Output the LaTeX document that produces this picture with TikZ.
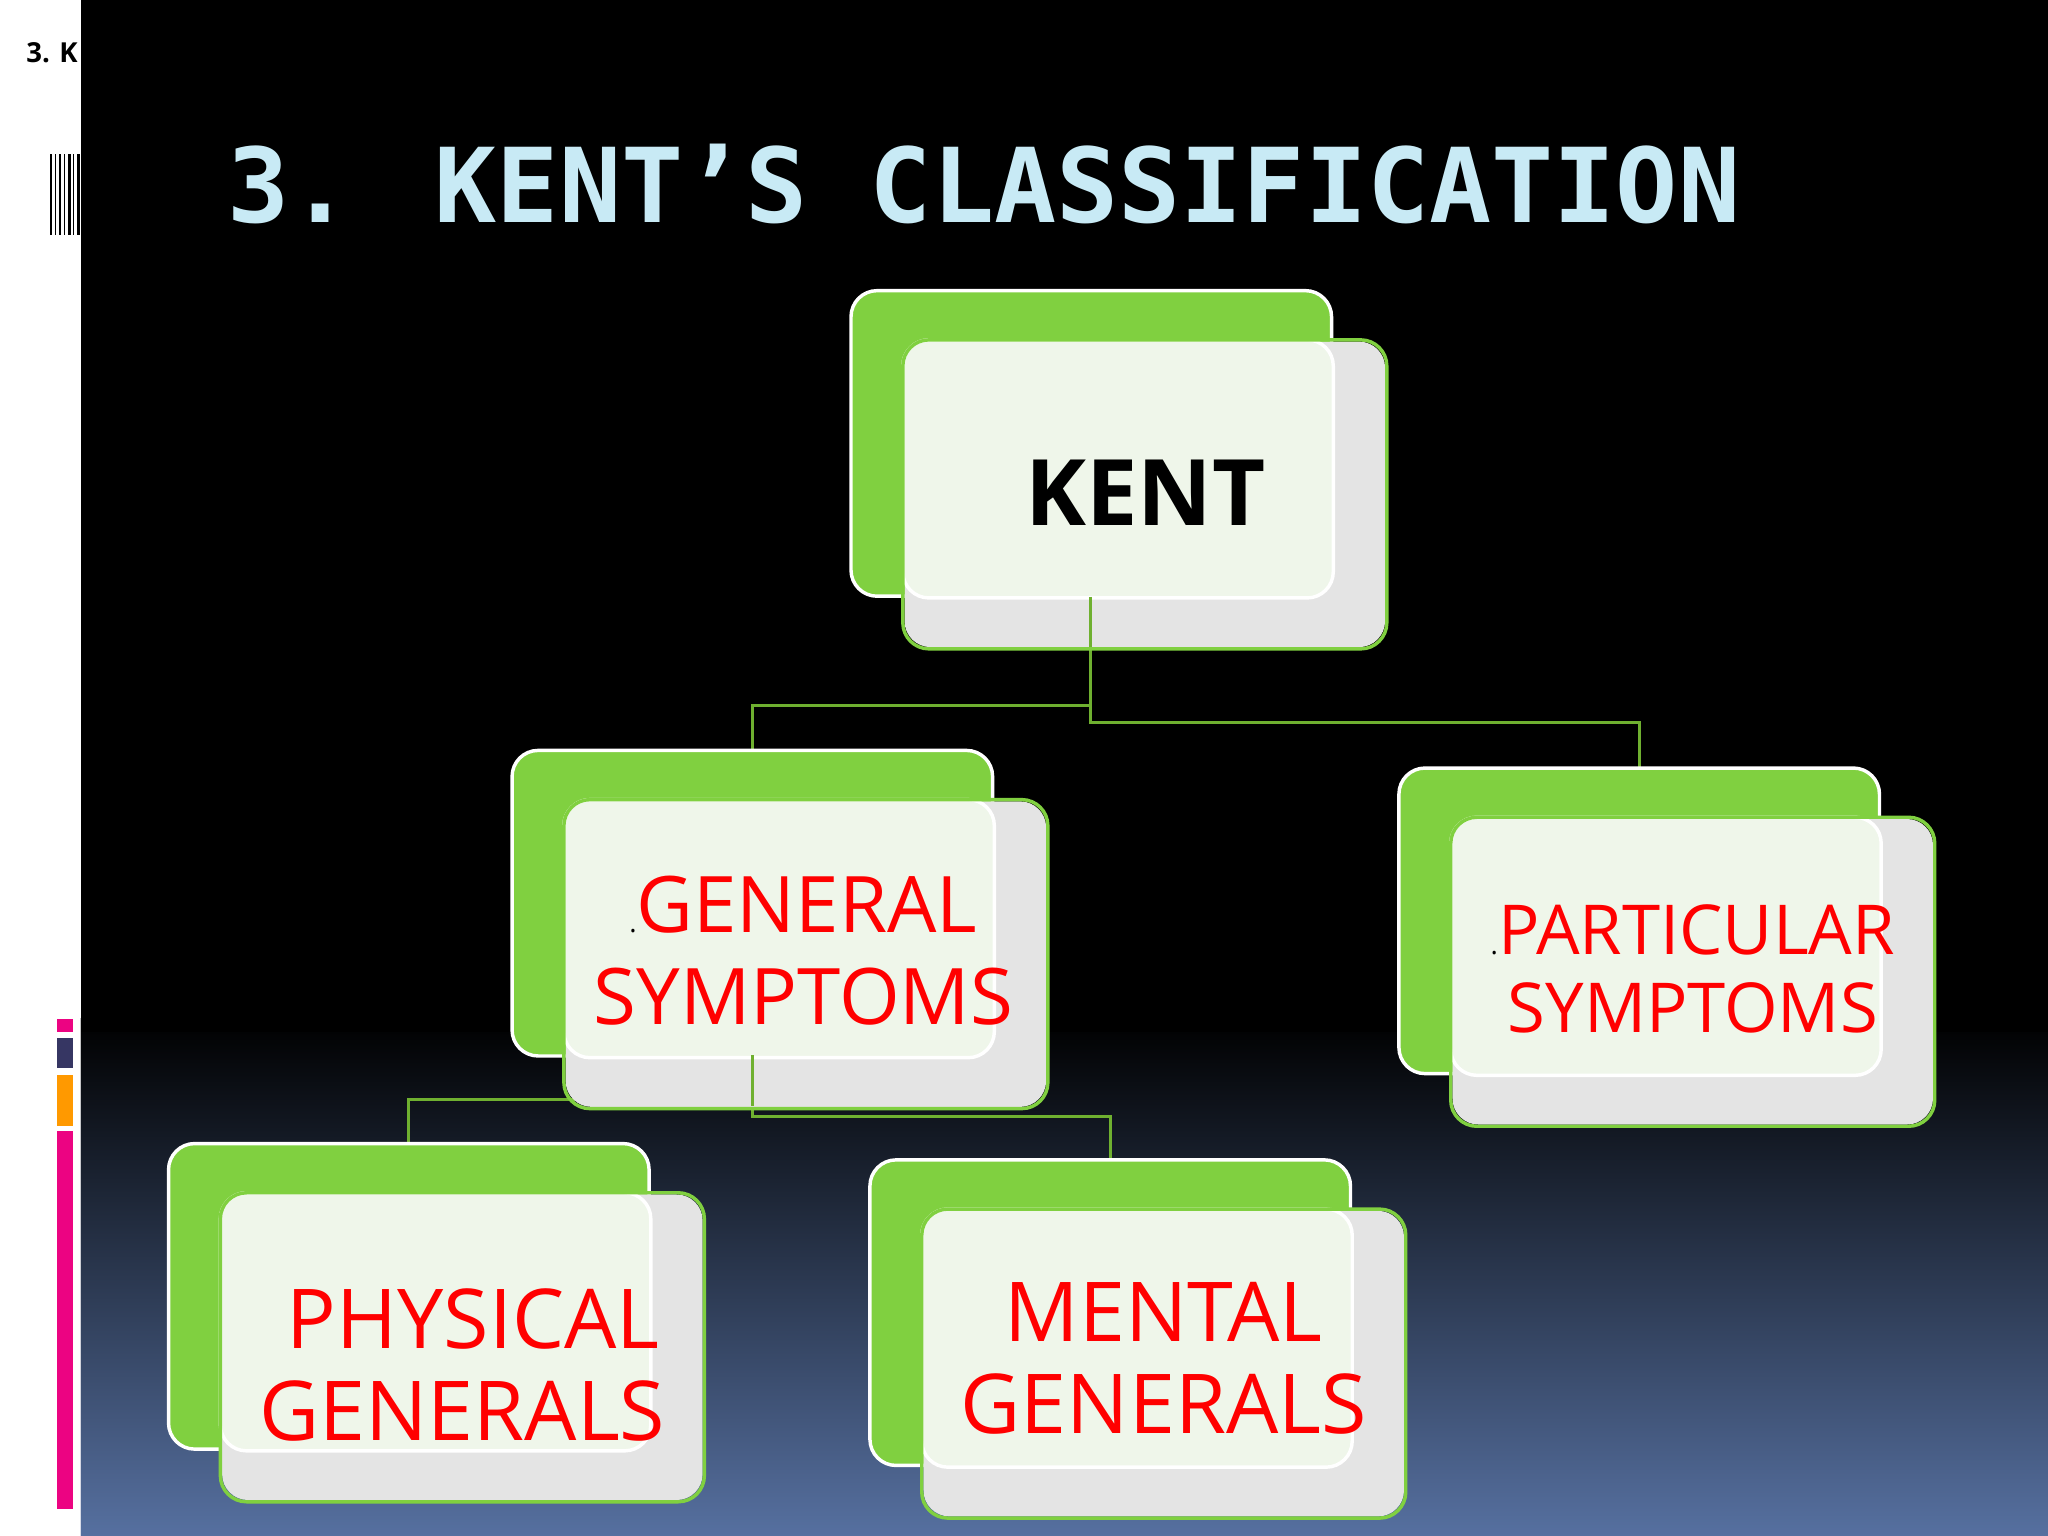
\documentclass[tikz,border=0pt]{standalone}
\usepackage{fontspec}
\setmainfont{Open Sans}
\newfontfamily\monob{DejaVu Sans Mono}
\begin{document}
\begin{tikzpicture}[x=0.02cm,y=-0.02cm,
  back/.style={draw=white,line width=1.5pt,fill=kgreen,rounded corners=0.4cm,minimum width=7.36cm,minimum height=4.68cm,inner sep=0pt},
  front/.style={draw=kgreen,line width=1.5pt,fill=kgray,rounded corners=0.4cm,minimum width=7.36cm,minimum height=4.68cm,inner sep=0pt},
  lbl/.style={text=red,align=center,font=\fontsize{34}{40}\selectfont},
  conn/.style={draw=kline,line width=1.2pt}]
\definecolor{kgreen}{HTML}{80D040}
\definecolor{kgray}{HTML}{E4E4E4}
\definecolor{klight}{HTML}{EFF6EA}
\definecolor{kline}{HTML}{6FB030}
\definecolor{ktitle}{HTML}{C8EAF5}
\useasboundingbox (0,0) rectangle (1568,1176);
\fill[white] (0,0) rectangle (1568,1176);
\fill[black] (62,0) rectangle (1568,790);
\shade[top color=black,bottom color=black!20!blue!35!gray!90!white] (62,780) rectangle (1568,1176);
\shade[top color=black,bottom color={rgb,255:red,86;green,112;blue,160}] (62,780) rectangle (1568,1176);
\node[anchor=west,font=\bfseries\fontsize{12}{14}\selectfont] (tl) at (14,40) {3. K};
\fill[black] (62,0) rectangle (1568,790);
% barcode
\foreach \x/\w in {38/1.5,42/1,45/2,49/1,52/2.5,56/1,59/2}{\fill[black] (\x,118) rectangle ++(\w,62);}
% bars
\fill[magenta!90!red] (44,780) rectangle (56,790);
\fill[gray!70!blue!60!black] (44,795) rectangle (56,818);
\fill[orange!80!yellow] (44,823) rectangle (56,862);
\fill[magenta!90!red] (44,866) rectangle (56,1155);
\node[anchor=base west,text=ktitle,font=\monob\bfseries\fontsize{45}{50}\selectfont] (title) at (168,170) {3. KENT’S CLASSIFICATION};
% boxes
\newcommand\kbox[3]{%
 \node[back] (#1b) at (#2,#3) {};
 \node[front,draw=none] (#1f) at ($(#2,#3)+(41,39)$) {};
 \draw[white,line width=1.5pt,fill=klight,rounded corners=0.4cm] (#1f.north west) rectangle (#1b.south east);
 \draw[kgreen,line width=1.5pt,rounded corners=0.4cm] (#1f.north west) rectangle (#1f.south east);
}
\usetikzlibrary{calc}
% connectors (behind boxes)
\coordinate (k1) at (835,495);
\draw[conn] (835,495) -- (835,540) -- (576,540) -- (576,575);
\draw[conn] (835,495) -- (835,553) -- (1255,553) -- (1255,588);
\draw[conn] (576,808) -- (576,855) -- (850,855) -- (850,888);
\draw[conn] (576,842) -- (313,842) -- (313,875);
\kbox{kent}{835.5}{339.5}
\kbox{gen}{576}{691.5}
\kbox{par}{1255}{705}
\kbox{phy}{313}{992.5}
\kbox{men}{850}{1005}
\draw[conn] (835,457) -- (835,495);
\draw[conn] (576,808) -- (576,847);
\node[font=\bfseries\fontsize{40}{44}\selectfont] (kt) at (877,377) {KENT};
\node[lbl] (gt) at (615,728) {{\fontsize{12}{12}\selectfont\textcolor{black}{.}}GENERAL\\SYMPTOMS};
\node[lbl,font=\fontsize{30}{34}\selectfont] (pt) at (1296,742) {{\fontsize{12}{12}\selectfont\textcolor{black}{.}}PARTICULAR\\SYMPTOMS};
\node[lbl,font=\fontsize{36}{40}\selectfont] (yt) at (354,1045) {\ PHYSICAL\\GENERALS};
\node[lbl,font=\fontsize{36}{40}\selectfont] (mt) at (891,1040) {MENTAL\\GENERALS};
\end{tikzpicture}
\end{document}
